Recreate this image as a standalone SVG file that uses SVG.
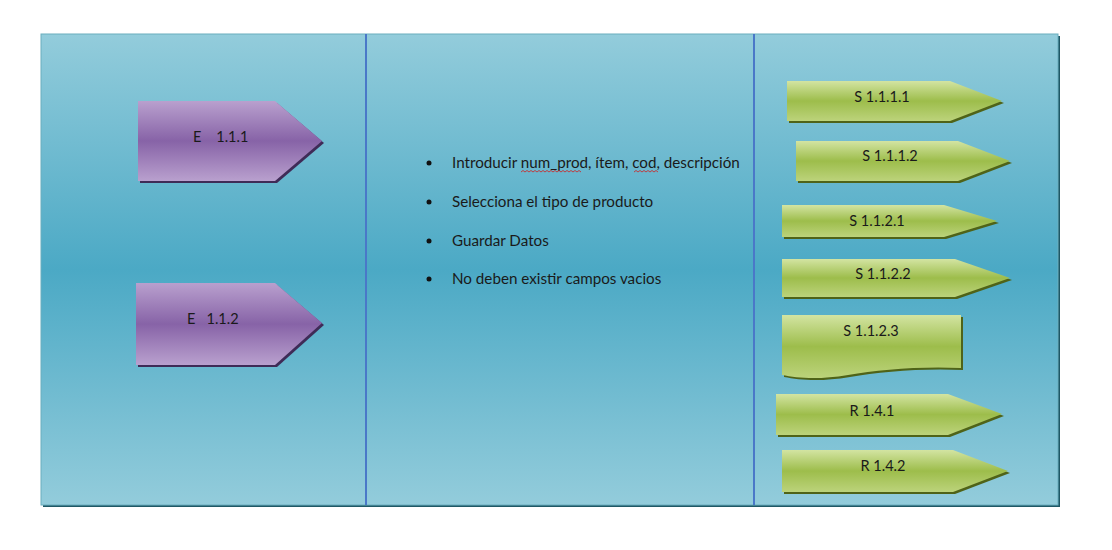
<svg xmlns="http://www.w3.org/2000/svg" width="1112" height="550" viewBox="0 0 1112 550">
<defs>
<linearGradient id="bg" x1="0" y1="0" x2="0" y2="1">
<stop offset="0" stop-color="#93ccdb"/>
<stop offset="0.5" stop-color="#4ba9c5"/>
<stop offset="1" stop-color="#93ccdb"/>
</linearGradient>
<linearGradient id="pu" x1="0" y1="0" x2="0" y2="1">
<stop offset="0" stop-color="#b9a0ce"/>
<stop offset="0.5" stop-color="#8763a7"/>
<stop offset="1" stop-color="#b9a0ce"/>
</linearGradient>
<linearGradient id="gr" x1="0" y1="0" x2="0" y2="1">
<stop offset="0" stop-color="#d3e4a2"/>
<stop offset="0.5" stop-color="#9dbd4b"/>
<stop offset="1" stop-color="#bcd37b"/>
</linearGradient>
<style>
.t{font-family:Lato,"Liberation Sans",sans-serif;font-size:14.5px;fill:#1a1a1a;white-space:pre}
.l{font-size:15.2px}
.p{fill:url(#pu)}
.g{fill:url(#gr)}
.sp{fill:#3f2b57}
.sg{fill:#4f6318}
.sq{fill:none;stroke:#d02020;stroke-width:0.8}
</style>
</defs>
<rect x="43" y="36" width="1017" height="471" fill="#1f5866"/>
<rect x="41" y="34" width="1017" height="471" fill="url(#bg)" stroke="#6aaebe" stroke-width="1"/>
<g id="dividers">
<line x1="366" y1="34" x2="366" y2="505" stroke="#4a78c8" stroke-width="2"/>
<line x1="754" y1="34" x2="754" y2="505" stroke="#4a78c8" stroke-width="2"/>
</g>
<g id="connectors"></g>
<g id="E111">
<path class="sp" d="M140,103 L277,103 L324,143 L277,183 L140,183 Z"/>
<path class="p" d="M138,101 L275,101 L322,141 L275,181 L138,181 Z"/>
<text class="t" x="193" y="142" xml:space="preserve">E    1.1.1</text>
</g>
<g id="E112">
<path class="sp" d="M138,285 L277,285 L324,325 L277,367 L138,367 Z"/>
<path class="p" d="M136,283 L275,283 L322,323 L275,365 L136,365 Z"/>
<text class="t" x="187" y="324" xml:space="preserve">E   1.1.2</text>
</g>
<g id="list">
<circle cx="429" cy="163" r="2.5" fill="#111"/>
<text class="t l" x="452" y="168">Introducir num_prod, ítem, cod, descripción</text>
<path class="sq" d="M521,172 l2,-1.5 l2,1.5 l2,-1.5 l2,1.5 l2,-1.5 l2,1.5 l2,-1.5 l2,1.5 l2,-1.5 l2,1.5 l2,-1.5 l2,1.5 l2,-1.5 l2,1.5 l2,-1.5 l2,1.5 l2,-1.5 l2,1.5 l2,-1.5 l2,1.5 l2,-1.5 l2,1.5 l2,-1.5 l2,1.5 l2,-1.5 l2,1.5 l2,-1.5 l2,1.5 l2,-1.5 l2,1.5"/>
<path class="sq" d="M634,172 l2,-1.5 l2,1.5 l2,-1.5 l2,1.5 l2,-1.5 l2,1.5 l2,-1.5 l2,1.5 l2,-1.5 l2,1.5 l2,-1.5 l2,1.5"/>
<circle cx="429" cy="202" r="2.5" fill="#111"/>
<text class="t l" x="452" y="207">Selecciona el tipo de producto</text>
<circle cx="429" cy="241" r="2.5" fill="#111"/>
<text class="t l" x="452" y="246">Guardar Datos</text>
<circle cx="429" cy="279" r="2.5" fill="#111"/>
<text class="t l" x="452" y="284">No deben existir campos vacios</text>
</g>
<g id="S1111">
<path class="sg" d="M789,83 L952,83 L1004,103 L952,123 L789,123 Z"/>
<path class="g" d="M787,81 L950,81 L1002,101 L950,121 L787,121 Z"/>
<text class="t" x="882" y="102" text-anchor="middle">S 1.1.1.1</text>
</g>
<g id="S1112">
<path class="sg" d="M798,143 L960,143 L1012,163 L960,183 L798,183 Z"/>
<path class="g" d="M796,141 L958,141 L1010,161 L958,181 L796,181 Z"/>
<text class="t" x="890" y="161" text-anchor="middle">S 1.1.1.2</text>
</g>
<g id="S1121">
<path class="sg" d="M784,207 L946,207 L999,223 L946,239 L784,239 Z"/>
<path class="g" d="M782,205 L944,205 L997,221 L944,237 L782,237 Z"/>
<text class="t" x="877" y="226" text-anchor="middle">S 1.1.2.1</text>
</g>
<g id="S1122">
<path class="sg" d="M784,261 L957,261 L1012,280 L957,299 L784,299 Z"/>
<path class="g" d="M782,259 L955,259 L1010,278 L955,297 L782,297 Z"/>
<text class="t" x="883" y="279" text-anchor="middle">S 1.1.2.2</text>
</g>
<g id="S1123">
<path class="sg" d="M784,317 L963,317 L963,370 C920,368 880,372 850,377 C820,382 800,380 784,377 Z"/>
<path class="g" d="M782,315 L961,315 L961,368 C918,366 878,370 848,375 C818,380 798,378 782,375 Z"/>
<text class="t" x="871" y="336" text-anchor="middle">S 1.1.2.3</text>
</g>
<g id="R141">
<path class="sg" d="M778,396 L950,396 L1004,416 L950,437 L778,437 Z"/>
<path class="g" d="M776,394 L948,394 L1002,414 L948,435 L776,435 Z"/>
<text class="t" x="872" y="416" text-anchor="middle">R 1.4.1</text>
</g>
<g id="R142">
<path class="sg" d="M784,452 L955,452 L1010,473 L955,494 L784,494 Z"/>
<path class="g" d="M782,450 L953,450 L1008,471 L953,492 L782,492 Z"/>
<text class="t" x="883" y="471" text-anchor="middle">R 1.4.2</text>
</g>
</svg>
